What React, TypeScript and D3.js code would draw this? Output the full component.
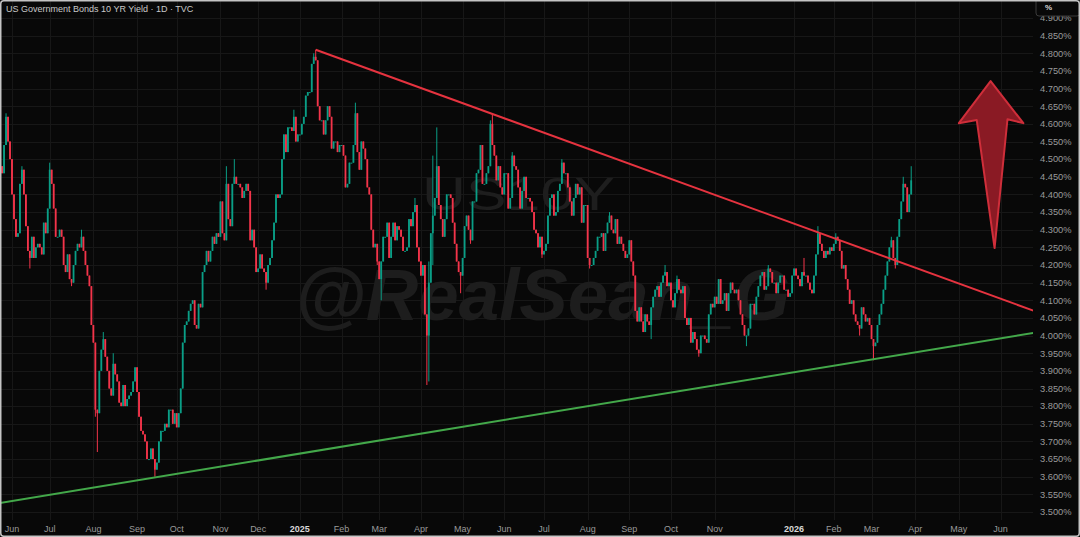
import React, { useMemo } from "react";
import * as d3 from "d3";

const W = 1080;
const H = 537;

// ---- daily closes (%), one array per trading month ----
const startOpen = 4.48;
const may24 = [4.46, 4.54, 4.62, 4.55, 4.5];
const jun24 = [4.4, 4.33, 4.28, 4.29, 4.43, 4.47, 4.4, 4.31, 4.24, 4.22, 4.28, 4.22, 4.25, 4.26, 4.25, 4.23, 4.32, 4.29, 4.36];
const jul24 = [4.47, 4.43, 4.36, 4.28, 4.28, 4.3, 4.28, 4.2, 4.18, 4.23, 4.16, 4.15, 4.2, 4.24, 4.26, 4.25, 4.28, 4.24, 4.2, 4.17, 4.14, 4.03];
const aug24 = [3.98, 3.79, 3.78, 3.9, 3.96, 3.99, 3.94, 3.9, 3.85, 3.83, 3.92, 3.89, 3.87, 3.81, 3.8, 3.86, 3.8, 3.82, 3.83, 3.84, 3.87, 3.91];
const sep24 = [3.84, 3.77, 3.73, 3.72, 3.7, 3.65, 3.65, 3.68, 3.65, 3.62, 3.64, 3.7, 3.73, 3.73, 3.75, 3.74, 3.79, 3.79, 3.75, 3.78];
const oct24 = [3.74, 3.78, 3.85, 3.98, 4.03, 4.04, 4.07, 4.09, 4.1, 4.03, 4.02, 4.09, 4.08, 4.18, 4.2, 4.24, 4.21, 4.24, 4.28, 4.26, 4.29, 4.28];
const nov24 = [4.38, 4.29, 4.27, 4.43, 4.33, 4.31, 4.43, 4.45, 4.43, 4.43, 4.42, 4.39, 4.41, 4.43, 4.41, 4.27, 4.3, 4.25, 4.18];
const dec24 = [4.19, 4.23, 4.19, 4.18, 4.15, 4.2, 4.22, 4.27, 4.32, 4.4, 4.39, 4.4, 4.5, 4.57, 4.52, 4.59, 4.59, 4.58, 4.62, 4.55, 4.57];
const jan25 = [4.57, 4.6, 4.62, 4.68, 4.69, 4.69, 4.77, 4.79, 4.78, 4.65, 4.61, 4.61, 4.57, 4.61, 4.65, 4.62, 4.53, 4.55, 4.55, 4.52, 4.54];
const feb25 = [4.54, 4.51, 4.42, 4.43, 4.49, 4.49, 4.54, 4.63, 4.52, 4.47, 4.55, 4.53, 4.5, 4.42, 4.4, 4.3, 4.25, 4.26, 4.21];
const mar25 = [4.16, 4.21, 4.28, 4.28, 4.32, 4.22, 4.28, 4.32, 4.27, 4.31, 4.3, 4.28, 4.24, 4.24, 4.25, 4.33, 4.31, 4.35, 4.37, 4.25, 4.21];
const apr25 = [4.17, 4.2, 4.06, 4.0, 4.15, 4.29, 4.34, 4.39, 4.48, 4.37, 4.33, 4.28, 4.33, 4.4, 4.4, 4.39, 4.32, 4.26, 4.21, 4.18, 4.17];
const may25 = [4.22, 4.31, 4.34, 4.3, 4.27, 4.38, 4.38, 4.46, 4.47, 4.54, 4.43, 4.43, 4.46, 4.48, 4.6, 4.54, 4.51, 4.44, 4.48, 4.42, 4.4];
const jun25 = [4.46, 4.46, 4.36, 4.39, 4.51, 4.48, 4.47, 4.42, 4.36, 4.41, 4.45, 4.39, 4.39, 4.38, 4.35, 4.3, 4.29, 4.25, 4.28, 4.23];
const jul25 = [4.24, 4.26, 4.34, 4.39, 4.4, 4.34, 4.35, 4.41, 4.43, 4.49, 4.46, 4.46, 4.42, 4.38, 4.34, 4.39, 4.43, 4.4, 4.42, 4.32, 4.37, 4.37];
const aug25 = [4.22, 4.2, 4.2, 4.22, 4.24, 4.28, 4.28, 4.29, 4.24, 4.29, 4.32, 4.34, 4.3, 4.29, 4.33, 4.26, 4.28, 4.26, 4.24, 4.22, 4.23];
const sep25 = [4.27, 4.21, 4.17, 4.07, 4.04, 4.08, 4.04, 4.01, 4.06, 4.04, 4.03, 4.08, 4.11, 4.13, 4.14, 4.11, 4.15, 4.17, 4.18, 4.14, 4.15];
const oct25 = [4.1, 4.08, 4.12, 4.16, 4.13, 4.12, 4.14, 4.05, 4.03, 4.05, 3.98, 4.01, 3.99, 3.96, 3.95, 4.0, 4.0, 3.99, 3.98, 4.06, 4.09, 4.08];
const nov25 = [4.11, 4.09, 4.16, 4.09, 4.1, 4.12, 4.07, 4.12, 4.15, 4.13, 4.12, 4.13, 4.1, 4.06, 4.03, 4.0, 4.0, 4.02];
const dec25 = [4.09, 4.09, 4.06, 4.11, 4.14, 4.17, 4.18, 4.13, 4.14, 4.19, 4.18, 4.15, 4.15, 4.12, 4.15, 4.17, 4.17, 4.13, 4.13, 4.11, 4.12, 4.17];
const jan26 = [4.19, 4.17, 4.16, 4.14, 4.18, 4.17, 4.17, 4.15, 4.13, 4.12, 4.17, 4.23, 4.29, 4.26, 4.24, 4.22, 4.24, 4.23, 4.25, 4.24];
const feb26 = [4.26, 4.28, 4.27, 4.24, 4.19, 4.2, 4.16, 4.13, 4.09, 4.1, 4.06, 4.04, 4.03, 4.02, 4.08, 4.06, 4.04, 4.05, 4.03];
const mar26 = [3.99, 3.97, 3.98, 4.03, 4.06, 4.09, 4.13, 4.17, 4.21, 4.25, 4.27, 4.22, 4.2, 4.28, 4.33, 4.38, 4.43, 4.42, 4.35, 4.4, 4.44];

// month key, axis label, closes, trading days in that month
const months: { key: string; tick: string; bold?: boolean; closes: number[]; days?: number }[] = [
  { key: "may24", tick: "", closes: may24 },
  { key: "jun24", tick: "Jun", closes: jun24 },
  { key: "jul24", tick: "Jul", closes: jul24 },
  { key: "aug24", tick: "Aug", closes: aug24 },
  { key: "sep24", tick: "Sep", closes: sep24 },
  { key: "oct24", tick: "Oct", closes: oct24 },
  { key: "nov24", tick: "Nov", closes: nov24 },
  { key: "dec24", tick: "Dec", closes: dec24 },
  { key: "jan25", tick: "2025", bold: true, closes: jan25 },
  { key: "feb25", tick: "Feb", closes: feb25 },
  { key: "mar25", tick: "Mar", closes: mar25 },
  { key: "apr25", tick: "Apr", closes: apr25 },
  { key: "may25", tick: "May", closes: may25 },
  { key: "jun25", tick: "Jun", closes: jun25 },
  { key: "jul25", tick: "Jul", closes: jul25 },
  { key: "aug25", tick: "Aug", closes: aug25 },
  { key: "sep25", tick: "Sep", closes: sep25 },
  { key: "oct25", tick: "Oct", closes: oct25 },
  { key: "nov25", tick: "Nov", closes: nov25 },
  { key: "dec25", tick: "", closes: dec25 },
  { key: "jan26", tick: "2026", bold: true, closes: jan26 },
  { key: "feb26", tick: "Feb", closes: feb26 },
  { key: "mar26", tick: "Mar", closes: mar26, days: 22 },
];
const futureMonths = [
  { tick: "Apr", days: 22 },
  { tick: "May", days: 21 },
  { tick: "Jun", days: 22 },
];

// intraday extremes: [month key, day in month, value]
const wickHighs: [string, number, number][] = [
  ["may24", 2, 4.63], ["jun24", 5, 4.48], ["jul24", 0, 4.49], ["jul24", 16, 4.3],
  ["aug24", 5, 4.01], ["aug24", 10, 3.95], ["nov24", 3, 4.48], ["nov24", 7, 4.5],
  ["dec24", 18, 4.64], ["jan25", 7, 4.8], ["jan25", 8, 4.81], ["feb25", 7, 4.66],
  ["mar25", 18, 4.39], ["apr25", 4, 4.21], ["apr25", 6, 4.51], ["apr25", 8, 4.59],
  ["may25", 14, 4.61], ["may25", 15, 4.63], ["jun25", 4, 4.52], ["jul25", 9, 4.5],
  ["aug25", 11, 4.35], ["sep25", 18, 4.2], ["oct25", 3, 4.17], ["dec25", 9, 4.2],
  ["jan26", 5, 4.22], ["jan26", 12, 4.31], ["feb26", 1, 4.29], ["mar26", 10, 4.28],
  ["mar26", 16, 4.45], ["mar26", 20, 4.48],
];
const wickLows: [string, number, number][] = [
  ["jun24", 9, 4.19], ["jul24", 11, 4.14], ["aug24", 1, 3.77], ["aug24", 2, 3.67],
  ["sep24", 9, 3.6], ["dec24", 4, 4.13], ["feb25", 18, 4.2], ["mar25", 1, 4.1],
  ["apr25", 3, 3.86], ["apr25", 4, 3.87], ["apr25", 6, 4.2], ["apr25", 20, 4.12],
  ["may25", 4, 4.26], ["jun25", 19, 4.22], ["aug25", 1, 4.19], ["sep25", 11, 3.99],
  ["oct25", 14, 3.94], ["nov25", 16, 3.97], ["feb26", 13, 4.0], ["mar26", 1, 3.93],
  ["mar26", 12, 4.19],
];

const yTicks = [3.5, 3.55, 3.6, 3.65, 3.7, 3.75, 3.8, 3.85, 3.9, 3.95, 4.0, 4.05, 4.1, 4.15, 4.2,
  4.25, 4.3, 4.35, 4.4, 4.45, 4.5, 4.55, 4.6, 4.65, 4.7, 4.75, 4.8, 4.85, 4.9];

// trend lines defined by two touch points: [month key, day, value]
const resistanceTouches: [string, number, number][] = [["jan25", 8, 4.81], ["may25", 15, 4.628]];
const supportTouches: [string, number, number][] = [["sep24", 9, 3.598], ["mar26", 1, 3.933]];

// arrow annotation in (bar offset from last bar, yield) space
const arrowShape: [number, number][] = [
  [40, 4.721], [56.5, 4.602], [48.5, 4.613], [42, 4.248], [33, 4.611], [24, 4.602],
];

const PLOT_R = 1033;
const PLOT_B = 520;

export default function App() {
  const model = useMemo(() => {
    const bars: { i: number; o: number; h: number; l: number; c: number }[] = [];
    const monthStart: Record<string, number> = {};
    const ticks: { i: number; label: string; bold?: boolean }[] = [];
    let idx = 0;
    let prev = startOpen;
    months.forEach((m) => {
      monthStart[m.key] = idx;
      if (m.tick) ticks.push({ i: idx, label: m.tick, bold: m.bold });
      m.closes.forEach((c) => {
        bars.push({ i: bars.length, o: prev, h: Math.max(prev, c), l: Math.min(prev, c), c });
        prev = c;
      });
      idx += m.days ?? m.closes.length;
    });
    futureMonths.forEach((f) => {
      ticks.push({ i: idx, label: f.tick });
      idx += f.days;
    });
    const at = (k: string, d: number) => monthStart[k] + d;
    wickHighs.forEach(([k, d, v]) => {
      const b = bars[at(k, d)];
      if (b) b.h = Math.max(b.h, v);
    });
    wickLows.forEach(([k, d, v]) => {
      const b = bars[at(k, d)];
      if (b) b.l = Math.min(b.l, v);
    });
    return { bars, ticks, at, junStart: monthStart["jun24"] };
  }, []);

  const { bars, ticks, at, junStart } = model;
  const lastIdx = bars.length - 1;

  const x = d3.scaleLinear().domain([junStart, junStart + 454]).range([12, 12 + 454 * 1.985]);
  const y = d3.scaleLinear().domain([3.5, 4.9]).range([512, 18]);
  const fmt = (v: number) => d3.format(".3f")(v) + "%";

  const iAtRight = x.invert(PLOT_R + 2);
  const iAtLeft = x.invert(-2);

  const lineThrough = (pts: [string, number, number][], from: number, to: number) => {
    const i1 = at(pts[0][0], pts[0][1]);
    const i2 = at(pts[1][0], pts[1][1]);
    const slope = (pts[1][2] - pts[0][2]) / (i2 - i1);
    const f = (i: number) => pts[0][2] + (i - i1) * slope;
    return [
      [x(from), y(f(from))],
      [x(to), y(f(to))],
    ];
  };
  const resStart = at(resistanceTouches[0][0], resistanceTouches[0][1]);
  const res = lineThrough(resistanceTouches, resStart, iAtRight);
  const sup = lineThrough(supportTouches, iAtLeft, iAtRight);

  const arrowPts = arrowShape.map(([di, v]) => [x(lastIdx + di), y(v)].join(",")).join(" ");

  const bodyW = 1.8;
  const up = "#0a9e86";
  const dn = "#f3344a";

  return (
    <svg width={W} height={H} style={{ position: "absolute", left: 0, top: 0, display: "block" }}
      fontFamily="'Liberation Sans', Arial, sans-serif">
      <defs>
        <clipPath id="plot">
          <rect x={0} y={0} width={PLOT_R} height={PLOT_B} />
        </clipPath>
      </defs>
      <rect x={0} y={0} width={W} height={H} fill="#080808" />

      {/* grid */}
      <g stroke="#171717" strokeWidth={1}>
        {yTicks.map((t) => (
          <line key={"h" + t} x1={0} x2={PLOT_R} y1={Math.round(y(t)) + 0.5} y2={Math.round(y(t)) + 0.5} />
        ))}
        {ticks.map((t) => (
          <line key={"v" + t.i} x1={Math.round(x(t.i)) + 0.5} x2={Math.round(x(t.i)) + 0.5} y1={0} y2={PLOT_B} />
        ))}
      </g>

      {/* watermarks */}
      <text x={422} y={210} fontSize={47} fill="#1e1e1e" textLength={193} lengthAdjust="spacingAndGlyphs">US10Y</text>
      <text x={295} y={320} fontSize={72} fontWeight="bold" fontStyle="italic" fill="#1d1d1d"
        textLength={495} lengthAdjust="spacingAndGlyphs">@RealSean_G</text>

      {/* candles */}
      <g clipPath="url(#plot)">
        {bars.map((b) => {
          const cx = x(b.i);
          const col = b.c >= b.o ? up : dn;
          const yt = y(Math.max(b.o, b.c));
          const yb = y(Math.min(b.o, b.c));
          return (
            <g key={b.i}>
              <line x1={cx} x2={cx} y1={y(b.h)} y2={y(b.l)} stroke={col} strokeWidth={1} />
              <rect x={cx - bodyW / 2} y={yt} width={bodyW} height={Math.max(1, yb - yt)} fill={col} />
            </g>
          );
        })}
        <line x1={res[0][0]} y1={res[0][1]} x2={res[1][0]} y2={res[1][1]} stroke="#e5333f" strokeWidth={2} />
        <line x1={sup[0][0]} y1={sup[0][1]} x2={sup[1][0]} y2={sup[1][1]} stroke="#43a84a" strokeWidth={2} />
        <polygon points={arrowPts} fill="#8a1a24" stroke="#cf2e3a" strokeWidth={2} strokeLinejoin="round" />
      </g>

      {/* title */}
      <text x={6} y={12} fontSize={9} fill="#c8c8c8">US Government Bonds 10 YR Yield · 1D · TVC</text>

      {/* y axis */}
      <g fontSize={9.3} fill="#9a9a9a">
        {yTicks.map((t) => (
          <text key={"yl" + t} x={1040} y={y(t) + 3.3}>{fmt(t)}</text>
        ))}
      </g>
      <rect x={1036} y={-3} width={44} height={19} rx={3} fill="#080808" stroke="#3a3a3a" />
      <text x={1045} y={10} fontSize={8} fontWeight="bold" fill="#d6d6d6">%</text>

      {/* x axis */}
      <g fontSize={9} textAnchor="middle">
        {ticks.map((t) => (
          <text key={"xl" + t.i} x={x(t.i)} y={532} fill={t.bold ? "#d8d8d8" : "#9a9a9a"}
            fontWeight={t.bold ? "bold" : "normal"}>{t.label}</text>
        ))}
      </g>

      {/* frame */}
      <rect x={0.75} y={0.75} width={W - 1.5} height={H - 1.5} rx={3} fill="none" stroke="#c4c4c4" strokeWidth={1.5} />
    </svg>
  );
}
